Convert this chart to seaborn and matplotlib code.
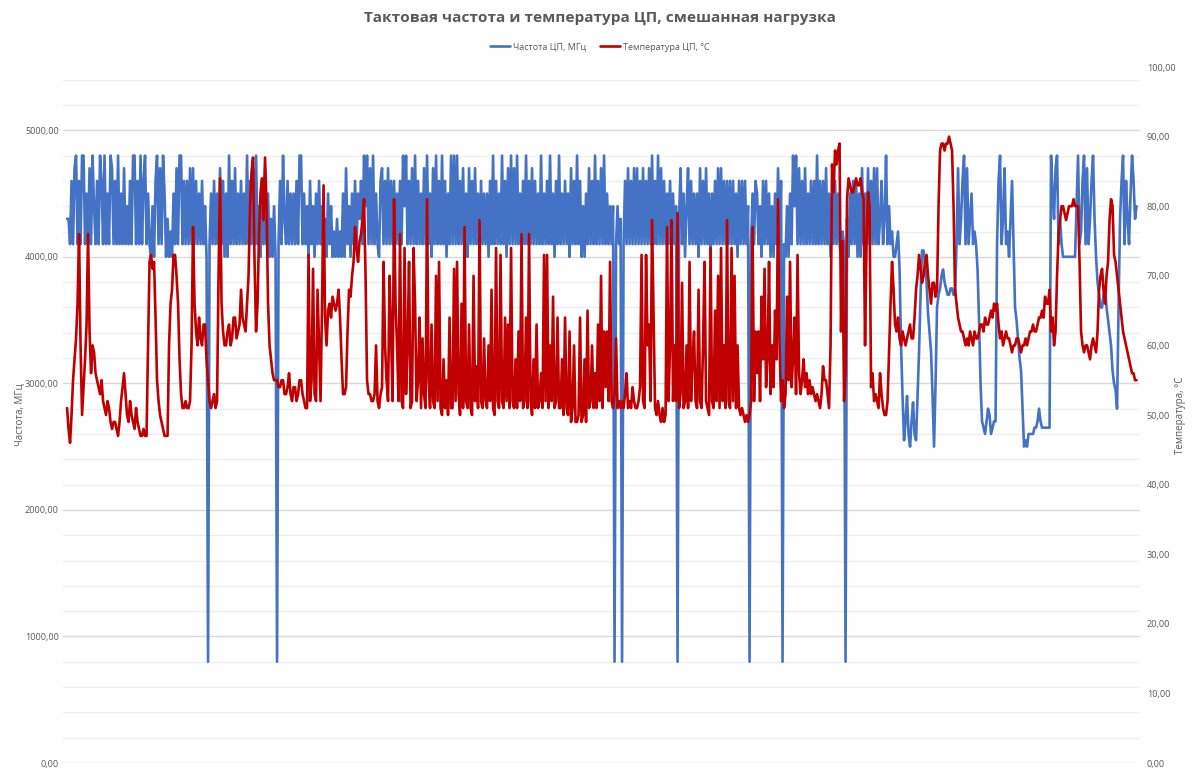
import numpy as np
import pandas as pd
import matplotlib
matplotlib.use('Agg')
import matplotlib.pyplot as plt
import seaborn as sns

sns.set_style('white')
plt.rcParams['font.family'] = ['Open Sans', 'DejaVu Sans']

# частота ЦП, МГц (left to right)
freq_mhz = [
    4300, 4300, 4100, 4600, 4100, 4700, 4800, 4100, 4600, 4100, 4800, 4800, 4100, 4500, 4100, 4700, 4100, 4800, 4400, 4100,
    4600, 4100, 4800, 4600, 4100, 4800, 4100, 4500, 4100, 4800, 4700, 4100, 4600, 4100, 4800, 4100, 4500, 4100, 4700, 4100,
    4400, 4100, 4600, 4100, 4800, 4800, 4100, 4600, 4100, 4800, 4100, 4600, 4800, 4100, 4500, 4100, 4000, 4400, 4000, 4600,
    4800, 4100, 4700, 4100, 4800, 4500, 4000, 4300, 4000, 4200, 4000, 4500, 4100, 4700, 4100, 4800, 4800, 4100, 4600, 4100,
    4600, 4100, 4700, 4100, 4700, 4100, 4600, 4100, 4500, 4100, 4600, 4100, 4400, 4000, 800, 4100, 4500, 4100, 4600, 4100,
    4500, 4100, 4700, 4100, 4600, 4000, 4500, 4000, 4800, 4100, 4600, 4100, 4700, 4100, 4500, 4100, 4600, 4100, 4500, 4100,
    4800, 4100, 4600, 4100, 4700, 4100, 4800, 4100, 4400, 4000, 4600, 4100, 4700, 4100, 4500, 4000, 4300, 4000, 4400, 4000,
    800, 4100, 4600, 4100, 4800, 4300, 4100, 4600, 4100, 4500, 4100, 4500, 4100, 4600, 4100, 4800, 4800, 4100, 4500, 4100,
    4400, 4000, 4600, 4100, 4400, 4000, 4500, 4100, 4600, 4100, 4400, 4000, 4300, 4000, 4500, 4100, 4400, 4000, 4200, 4000,
    4300, 4000, 4200, 4000, 4500, 4000, 4700, 4100, 4400, 4000, 4500, 4100, 4600, 4100, 4500, 4300, 4600, 4100, 4800, 4400,
    4800, 4100, 4700, 4100, 4800, 4100, 4500, 4100, 4000, 4600, 4700, 4100, 4600, 4100, 4700, 4100, 4600, 4100, 4600, 4100,
    4500, 4100, 4600, 4100, 4800, 4400, 4800, 4100, 4600, 4100, 4700, 4100, 4800, 4100, 4600, 4100, 4500, 4100, 4700, 4100,
    4800, 4100, 4500, 4000, 4700, 4100, 4800, 4100, 4600, 4100, 4800, 4100, 4600, 4000, 4500, 4100, 4800, 4100, 4800, 4100,
    4800, 4100, 4600, 4100, 4700, 4100, 4500, 4000, 4700, 4100, 4600, 4100, 4700, 4100, 4500, 4000, 4600, 4100, 4500, 4100,
    4500, 4000, 4600, 4100, 4800, 4100, 4600, 4100, 4500, 4100, 4800, 4100, 4600, 4000, 4700, 4100, 4800, 4100, 4700, 4100,
    4800, 4100, 4500, 4100, 4600, 4100, 4800, 4100, 4600, 4100, 4700, 4100, 4600, 4100, 4500, 4100, 4800, 4100, 4500, 4100,
    4600, 4100, 4800, 4100, 4500, 4000, 4600, 4100, 4800, 4100, 4500, 4100, 4600, 4100, 4500, 4000, 4700, 4100, 4600, 4100,
    4800, 4100, 4600, 4000, 4400, 4000, 4500, 4100, 4700, 4100, 4600, 4100, 4800, 4100, 4600, 4100, 4700, 4100, 4800, 4100,
    4500, 4100, 4400, 4100, 4400, 800, 4100, 4400, 4100, 4300, 800, 4100, 4600, 4100, 4700, 4100, 4600, 4100, 4700, 4100,
    4700, 4100, 4600, 4100, 4700, 4100, 4600, 4100, 4700, 4100, 4800, 4100, 4600, 4100, 4800, 4100, 4700, 4100, 4600, 4100,
    4500, 4100, 4600, 4100, 4500, 4100, 4400, 800, 4300, 4700, 4100, 4500, 4000, 4400, 4700, 4100, 4600, 4100, 4500, 4100,
    4500, 4000, 4700, 4100, 4600, 4100, 4700, 4100, 4500, 4000, 4500, 4100, 4600, 4100, 4700, 4100, 4700, 4100, 4600, 4100,
    4600, 4100, 4600, 4100, 4600, 4100, 4500, 4000, 4600, 4100, 4600, 4100, 4600, 4100, 4400, 800, 4100, 4500, 4100, 4600,
    4500, 4100, 4400, 4000, 4600, 4100, 4600, 4100, 4500, 4000, 4400, 4000, 4500, 4100, 4700, 4100, 4600, 800, 4100, 4000,
    4400, 4000, 4500, 4100, 4800, 4400, 4800, 4100, 4700, 4100, 4600, 4100, 4700, 4100, 4500, 4100, 4600, 4100, 4600, 4100,
    4800, 4100, 4600, 4100, 4600, 4100, 4700, 4100, 4500, 4000, 4500, 4100, 4600, 4100, 4500, 4100, 4000, 4200, 4100, 800,
    4300, 4000, 4500, 4100, 4600, 4100, 4600, 4000, 4500, 4000, 4700, 4100, 4500, 4100, 4700, 4100, 4600, 4100, 4700, 4100,
    4700, 4100, 4300, 4600, 4100, 4300, 4800, 4100, 4400, 4100, 4200, 4000, 4000, 4100, 4200, 3900, 3300, 2900, 2550, 2700,
    2900, 2600, 2500, 2700, 2850, 2600, 2550, 2900, 3250, 3700, 4050, 4050, 3950, 3800, 3550, 3400, 3250, 2900, 2500, 3000,
    3600, 3700, 3750, 3850, 3900, 3800, 3750, 3700, 3700, 3750, 3750, 3700, 3700, 4100, 4700, 4100, 4300, 4600, 4800, 4100,
    4700, 4100, 4300, 4500, 4100, 4200, 4100, 3900, 3500, 3000, 2700, 2650, 2600, 2700, 2800, 2750, 2600, 2650, 2700, 2700,
    4100, 4600, 4800, 4100, 4300, 4700, 4100, 4200, 4000, 4300, 4600, 4100, 3600, 3500, 3350, 3200, 3100, 2800, 2500, 2550,
    2500, 2600, 2600, 2600, 2600, 2650, 2650, 2700, 2800, 2700, 2650, 2650, 2650, 2650, 2650, 2650, 4800, 4500, 4300, 4700,
    4800, 4100, 4300, 4100, 4000, 4000, 4000, 4000, 4000, 4000, 4000, 4000, 4000, 4400, 4800, 4100, 4200, 4600, 4800, 4100,
    4700, 4100, 4300, 4600, 4800, 4300, 4000, 3800, 3700, 3600, 3600, 3700, 3750, 3600, 3500, 3400, 3300, 3100, 3000, 2950,
    2800, 3600, 4300, 4600, 4800, 4100, 4600, 4300, 4100, 4500, 4800, 4600, 4300, 4400,
]

# температура ЦП, °C
temp_c = [
    51, 48, 46, 50, 55, 58, 61, 66, 76, 60, 50, 54, 58, 63, 76, 62, 56, 60, 59, 56,
    55, 54, 53, 55, 52, 51, 50, 52, 51, 49, 48, 49, 49, 48, 47, 49, 52, 54, 56, 53,
    50, 49, 52, 50, 49, 48, 51, 49, 48, 47, 47, 48, 47, 47, 60, 72, 73, 71, 72, 64,
    55, 52, 50, 49, 48, 47, 47, 47, 60, 66, 68, 73, 73, 70, 66, 58, 53, 51, 51, 52,
    51, 51, 52, 60, 77, 66, 62, 60, 64, 61, 60, 63, 63, 58, 55, 52, 51, 52, 53, 51,
    52, 70, 84, 66, 62, 60, 60, 62, 63, 60, 61, 64, 64, 61, 62, 63, 68, 64, 63, 62,
    66, 70, 80, 85, 87, 72, 62, 66, 76, 82, 84, 78, 87, 80, 66, 60, 58, 56, 55, 55,
    55, 54, 54, 55, 55, 53, 53, 54, 56, 53, 52, 54, 54, 52, 53, 55, 55, 53, 52, 51,
    51, 73, 52, 55, 71, 53, 52, 68, 60, 52, 66, 83, 64, 60, 65, 66, 64, 67, 66, 65,
    66, 68, 64, 58, 53, 53, 54, 62, 68, 67, 70, 72, 77, 74, 72, 75, 76, 78, 81, 70,
    55, 53, 53, 52, 52, 53, 60, 52, 51, 53, 54, 72, 60, 55, 52, 70, 62, 52, 81, 66,
    60, 52, 76, 52, 51, 74, 53, 60, 72, 51, 52, 74, 66, 52, 55, 64, 51, 61, 53, 51,
    81, 55, 51, 63, 52, 51, 70, 52, 72, 51, 50, 58, 51, 55, 50, 64, 51, 51, 71, 52,
    72, 53, 50, 66, 51, 77, 52, 51, 63, 51, 50, 70, 52, 57, 51, 78, 52, 51, 61, 52,
    51, 60, 52, 68, 51, 50, 74, 52, 51, 73, 52, 51, 64, 52, 63, 51, 74, 52, 51, 58,
    51, 62, 52, 76, 51, 52, 64, 51, 76, 52, 50, 58, 51, 63, 51, 52, 56, 51, 73, 52,
    73, 51, 60, 52, 67, 51, 52, 64, 51, 51, 58, 50, 64, 51, 50, 62, 49, 51, 60, 49,
    49, 50, 64, 49, 50, 58, 49, 65, 51, 52, 60, 51, 56, 51, 63, 52, 70, 51, 62, 54,
    62, 52, 72, 52, 51, 53, 61, 51, 52, 51, 52, 51, 53, 56, 51, 52, 51, 54, 52, 51,
    51, 52, 54, 73, 52, 51, 73, 60, 63, 52, 78, 64, 51, 50, 52, 50, 49, 51, 49, 50,
    77, 52, 60, 78, 52, 60, 52, 79, 51, 53, 69, 51, 52, 60, 51, 72, 52, 58, 62, 52,
    51, 68, 52, 51, 60, 72, 52, 51, 50, 74, 52, 51, 65, 52, 70, 51, 74, 52, 60, 51,
    78, 52, 51, 74, 52, 70, 51, 60, 51, 50, 51, 50, 49, 50, 49, 50, 52, 77, 52, 62,
    56, 62, 52, 67, 58, 71, 54, 58, 72, 53, 60, 54, 65, 58, 81, 60, 52, 55, 51, 53,
    67, 55, 72, 54, 58, 64, 53, 73, 56, 53, 55, 58, 54, 56, 53, 55, 53, 54, 53, 52,
    53, 52, 51, 53, 57, 55, 55, 53, 51, 60, 86, 82, 88, 86, 88, 89, 62, 75, 52, 56,
    81, 84, 83, 82, 82, 83, 84, 83, 83, 84, 82, 81, 60, 75, 82, 80, 54, 56, 52, 53,
    52, 51, 56, 53, 51, 50, 50, 52, 59, 66, 72, 68, 63, 62, 64, 61, 60, 62, 61, 60,
    61, 62, 63, 61, 61, 64, 68, 70, 73, 71, 69, 70, 72, 73, 70, 68, 66, 69, 69, 67,
    68, 80, 88, 89, 89, 88, 89, 89, 90, 89, 88, 80, 68, 66, 64, 63, 62, 62, 61, 60,
    61, 60, 62, 61, 60, 62, 61, 61, 62, 63, 63, 62, 64, 63, 63, 64, 65, 64, 66, 65,
    66, 63, 61, 62, 60, 61, 62, 61, 61, 60, 59, 60, 60, 61, 61, 60, 59, 60, 60, 61,
    60, 61, 62, 62, 63, 62, 62, 63, 64, 64, 65, 64, 67, 66, 66, 68, 62, 64, 60, 62,
    70, 76, 78, 80, 80, 79, 78, 79, 80, 80, 80, 81, 80, 80, 80, 72, 62, 60, 59, 60,
    60, 59, 58, 60, 61, 60, 59, 62, 68, 70, 71, 68, 66, 70, 72, 78, 81, 80, 73, 72,
    70, 68, 66, 64, 62, 61, 60, 59, 58, 57, 56, 56, 55, 55,
]

freq_label = 'Частота ЦП, МГц'
temp_label = 'Температура ЦП, °С'
freq_ticks = [0, 1000, 2000, 3000, 4000, 5000]
temp_ticks = [0, 10, 20, 30, 40, 50, 60, 70, 80, 90, 100]

n = min(len(freq_mhz), len(temp_c))
df = pd.DataFrame({'t': np.arange(n), 'freq': freq_mhz[:n], 'temp': temp_c[:n]})

blue = '#4472C4'
red = '#C00000'
grey = '#595959'

fig = plt.figure(figsize=(12, 7.73), dpi=100)
W, H = 1200, 773
ax = fig.add_axes([63 / W, 1 - 763 / H, (1140 - 63) / W, (763 - 67) / H])
ax2 = ax.twinx()

sns.lineplot(data=df, x='t', y='freq', ax=ax, color=blue, lw=1.9, legend=False)
sns.lineplot(data=df, x='t', y='temp', ax=ax2, color=red, lw=1.9, legend=False)

ax.set_xlim(-2.7, n - 1 + 2.3)
ax.set_ylim(0, 5500)
ax2.set_ylim(0, 100)

ax.set_yticks(freq_ticks)
ax.set_yticklabels([f'{v},00' for v in freq_ticks])
ax.set_yticks(np.arange(0, 5501, 200), minor=True)
ax2.set_yticks(temp_ticks)
ax2.set_yticklabels([f'{v},00' for v in temp_ticks])
ax.set_xticks([])
ax.set_xlabel('')
ax.set_ylabel('')
ax2.set_ylabel('')

ax.grid(which='major', axis='y', color='#d9d9d9', lw=1.0)
ax.grid(which='minor', axis='y', color='#efefef', lw=1.0)
ax.set_axisbelow(True)
for a in (ax, ax2):
    for s in a.spines.values():
        s.set_visible(False)
    a.tick_params(axis='y', which='both', length=0, labelsize=6.6, labelcolor=grey)
ax.tick_params(axis='y', pad=3)
ax2.tick_params(axis='y', pad=5)

fig.text(0.5, 1 - 18 / H, 'Тактовая частота и температура ЦП, смешанная нагрузка',
         ha='center', va='center', fontsize=11.1, fontweight='bold', color=grey)
fig.text(20 / W, 1 - 415 / H, 'Частота, МГц', rotation=90, ha='center', va='center',
         fontsize=7, color=grey)
fig.text(1181 / W, 1 - 415 / H, 'Температура, °С', rotation=90, ha='center', va='center',
         fontsize=7, color=grey)

handles = [ax.get_lines()[0], ax2.get_lines()[0]]
fig.legend(handles, [freq_label, temp_label], loc='center', bbox_to_anchor=(0.5, 1 - 47 / H),
           ncol=2, frameon=False, fontsize=6.5, handlelength=2.2, handletextpad=0.3,
           columnspacing=1.6, labelcolor=grey)

fig.savefig('out.png', dpi=100)
